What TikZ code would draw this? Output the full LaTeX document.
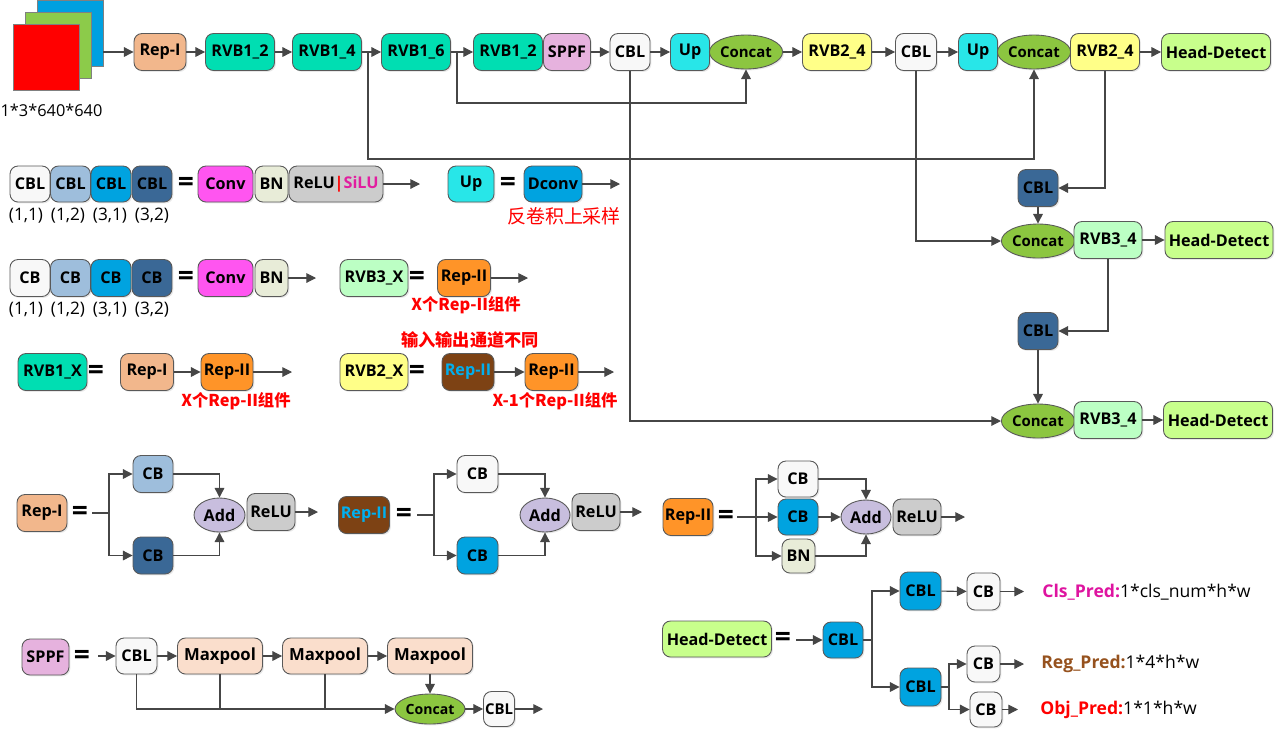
\documentclass[tikz,border=0pt]{standalone}
\usepackage{fontspec}
\setmainfont{Open Sans}
\newfontfamily\cjk{Noto Sans CJK SC}
\usetikzlibrary{shapes.geometric,arrows.meta,shadows}
\definecolor{cLine}{RGB}{70,70,70}
\definecolor{cImgB}{RGB}{0,160,224}
\definecolor{cImgG}{RGB}{140,203,74}
\definecolor{cRepI}{RGB}{242,183,140}
\definecolor{cRvbI}{RGB}{0,222,178}
\definecolor{cSppf}{RGB}{230,178,222}
\definecolor{cWhite}{RGB}{248,248,248}
\definecolor{cUp}{RGB}{40,230,232}
\definecolor{cCat}{RGB}{140,198,64}
\definecolor{cRvbII}{RGB}{255,255,136}
\definecolor{cHead}{RGB}{200,255,140}
\definecolor{cRvbIII}{RGB}{188,255,196}
\definecolor{cDark}{RGB}{58,104,150}
\definecolor{cLight}{RGB}{158,190,220}
\definecolor{cMid}{RGB}{0,163,224}
\definecolor{cConv}{RGB}{255,85,240}
\definecolor{cBn}{RGB}{232,236,216}
\definecolor{cRelu}{RGB}{204,204,204}
\definecolor{cSilu}{RGB}{225,30,160}
\definecolor{cRepII}{RGB}{255,148,40}
\definecolor{cBrown}{RGB}{125,66,20}
\definecolor{cCyanT}{RGB}{0,176,240}
\definecolor{cAdd}{RGB}{200,190,222}
\definecolor{cPool}{RGB}{250,222,204}
\definecolor{cReg}{RGB}{150,82,30}
\definecolor{cCls}{RGB}{222,20,160}
\tikzset{
  blk/.style={draw=black!65, line width=0.5pt, rounded corners=0.16cm, minimum height=0.74cm, minimum width=#1, inner sep=0pt, font=\bfseries\fontsize{9.2}{10}\selectfont, drop shadow={opacity=0.18, shadow xshift=0.8pt, shadow yshift=-0.8pt}},
  blk/.default=0.8cm,
  oval/.style={ellipse, draw=black!65, line width=0.5pt, fill=cCat, minimum width=1.4cm, minimum height=0.68cm, inner sep=0pt, font=\bfseries\fontsize{8.5}{10}\selectfont, drop shadow={opacity=0.18, shadow xshift=0.8pt, shadow yshift=-0.8pt}},
  sq/.style={draw=black!50, line width=0.4pt, minimum size=1.32cm, inner sep=0pt},
  arr/.style={draw=cLine, line width=0.6pt, -{Triangle[length=5.5pt,width=5.5pt]}},
  ln/.style={draw=cLine, line width=0.6pt},
  eq/.style={font=\bfseries\fontsize{16}{16}\selectfont, inner sep=0pt},
  lbl/.style={font=\fontsize{9.8}{11}\selectfont, inner sep=0pt},
  note/.style={text=red, font=\cjk\bfseries\fontsize{9.3}{11}\selectfont, inner sep=0pt},
  pred/.style={anchor=west, font=\fontsize{10}{12}\selectfont, inner sep=0pt}
}
\begin{document}
\begin{tikzpicture}[x=0.02cm,y=-0.02cm]
\useasboundingbox (0,0) rectangle (1277,731);

\node[sq, fill=cImgB] (imgB) at (70,33) {};
\node[sq, fill=cImgG] (imgG) at (58.5,45) {};
\node[sq, fill=red] (imgR) at (46.5,57) {};
\node[lbl, font=\fontsize{9.3}{11}\selectfont] (imgT) at (51.5,110) {1*3*640*640};

\node[blk=1.04cm, fill=cRepI] (repI) at (160,52) {Rep-I};
\node[blk=1.38cm, fill=cRvbI] (rvbA) at (240,52) {RVB1\_2};
\node[blk=1.38cm, fill=cRvbI] (rvbB) at (327,52) {RVB1\_4};
\node[blk=1.38cm, fill=cRvbI] (rvbC) at (416,52) {RVB1\_6};
\node[blk=1.38cm, fill=cRvbI] (rvbD) at (508,52) {RVB1\_2};
\node[blk=0.94cm, fill=cSppf] (sppf) at (567,52) {SPPF};
\node[blk=0.8cm, fill=cWhite] (cblA) at (630,52) {CBL};
\node[blk=0.78cm, fill=cUp] (upA) at (690,52) {Up};
\node[oval] (catA) at (746,52) {Concat};
\node[blk=1.38cm, fill=cRvbII] (rvbE) at (837,52) {RVB2\_4};
\node[blk=0.82cm, fill=cWhite] (cblB) at (916,52) {CBL};
\node[blk=0.78cm, fill=cUp] (upB) at (978,52) {Up};
\node[oval] (catB) at (1034,52) {Concat};
\node[blk=1.38cm, fill=cRvbII] (rvbF) at (1105,52) {RVB2\_4};
\node[blk=2.18cm, fill=cHead] (headA) at (1216,52) {Head-Detect};

\node[blk=0.8cm, fill=cDark] (cblC) at (1038,188) {CBL};
\node[oval] (catC) at (1038,241) {Concat};
\node[blk=1.36cm, fill=cRvbIII] (rvbG) at (1108,240) {RVB3\_4};
\node[blk=2.16cm, fill=cHead] (headB) at (1219,240) {Head-Detect};
\node[blk=0.8cm, fill=cDark] (cblD) at (1038,331) {CBL};
\node[oval] (catD) at (1038,421) {Concat};
\node[blk=1.36cm, fill=cRvbIII] (rvbH) at (1108,420) {RVB3\_4};
\node[blk=2.18cm, fill=cHead] (headC) at (1218,420) {Head-Detect};

\coordinate (brA) at (368,52);
\coordinate (brB) at (457,52);
\draw[arr] (imgB.east |- repI.west) -- (repI.west);
\draw[arr] (repI) -- (rvbA);
\draw[arr] (rvbA) -- (rvbB);
\draw[arr] (rvbB) -- (rvbC);
\draw[arr] (rvbC) -- (rvbD);
\draw[arr] (sppf) -- (cblA);
\draw[arr] (cblA) -- (upA);
\draw[arr] (catA) -- (rvbE);
\draw[arr] (rvbE) -- (cblB);
\draw[arr] (cblB) -- (upB);
\draw[arr] (rvbF) -- (headA);
\draw[arr] (brA) -- ++(0,107) -| (catB.south);
\draw[arr] (brB) -- ++(0,51) -| (catA.south);
\draw[arr] (cblA.south) |- (catD.west);
\draw[arr] (cblB.south) |- (catC.west);
\draw[arr] (rvbF.south) |- (cblC.east);
\draw[arr] (cblC) -- (catC);
\draw[arr] (rvbG) -- (headB);
\draw[arr] (rvbG.south) |- (cblD.east);
\draw[arr] (cblD) -- (catD);
\draw[arr] (rvbH) -- (headC);

\node[blk=0.8cm, fill=cWhite, minimum height=0.72cm] (cblW) at (30,184) {CBL};
\node[blk=0.8cm, fill=cLight, minimum height=0.72cm] (cblL) at (70.5,184) {CBL};
\node[blk=0.8cm, fill=cMid, minimum height=0.72cm] (cblM) at (111,184) {CBL};
\node[blk=0.8cm, fill=cDark, minimum height=0.72cm] (cblK) at (152,184) {CBL};
\node[lbl] (kA) at (26,216) {(1,1)};
\node[lbl] (kB) at (68,216) {(1,2)};
\node[lbl] (kC) at (110,216) {(3,1)};
\node[lbl] (kD) at (152,216) {(3,2)};
\node[eq] (eqA) at (186,184) {=};
\node[blk=1.1cm, fill=cConv, minimum height=0.72cm] (convA) at (225.5,184) {Conv};
\node[blk=0.66cm, fill=cBn, minimum height=0.72cm] (bnA) at (271.5,184) {BN};
\node[blk=1.88cm, fill=cRelu, minimum height=0.72cm] (reluA) at (336,184) {ReLU{\color{red}|}{\color{cSilu}SiLU}};
\coordinate (endA) at (420,184);
\draw[arr] (reluA) -- (endA);
\node[blk=0.92cm, fill=cUp, minimum height=0.72cm] (upC) at (471,184) {Up};
\node[eq] (eqB) at (508,184) {=};
\node[blk=1.16cm, fill=cMid, minimum height=0.72cm] (dconv) at (553,184) {Dconv};
\coordinate (endB) at (620,184);
\draw[arr] (dconv) -- (endB);
\node[inner sep=0pt, text=red, font=\cjk\fontsize{10.8}{12}\selectfont] (upT) at (564,216) {反卷积上采样};

\node[blk=0.8cm, fill=cWhite, minimum height=0.74cm] (cbW) at (30,278) {CB};
\node[blk=0.8cm, fill=cLight, minimum height=0.74cm] (cbL) at (70.5,278) {CB};
\node[blk=0.8cm, fill=cMid, minimum height=0.74cm] (cbM) at (111,278) {CB};
\node[blk=0.8cm, fill=cDark, minimum height=0.74cm] (cbK) at (152,278) {CB};
\node[lbl] (kE) at (26,310) {(1,1)};
\node[lbl] (kF) at (68,310) {(1,2)};
\node[lbl] (kG) at (110,310) {(3,1)};
\node[lbl] (kH) at (152,310) {(3,2)};
\node[eq] (eqC) at (186,278) {=};
\node[blk=1.1cm, fill=cConv] (convB) at (225.5,278) {Conv};
\node[blk=0.66cm, fill=cBn] (bnB) at (271.5,278) {BN};
\coordinate (endC) at (316,278);
\draw[arr] (bnB) -- (endC);
\node[blk=1.36cm, fill=cRvbIII] (rvbX) at (374,278) {RVB3\_X};
\node[eq] (eqD) at (417,278) {=};
\node[blk=1.06cm, fill=cRepII] (repA) at (464,278) {Rep-II};
\coordinate (endD) at (528,278);
\draw[arr] (repA) -- (endD);
\node[note] (noteA) at (466,305) {X个Rep-II组件};

\node[blk=1.38cm, fill=cRvbI] (rvbY) at (52.5,372) {RVB1\_X};
\node[eq] (eqE) at (96,372) {=};
\node[blk=1.06cm, fill=cRepI] (repB) at (147,372) {Rep-I};
\node[blk=1.04cm, fill=cRepII] (repC) at (227,372) {Rep-II};
\coordinate (endE) at (292,372);
\draw[arr] (repB) -- (repC);
\draw[arr] (repC) -- (endE);
\node[note] (noteB) at (236,401) {X个Rep-II组件};
\node[blk=1.36cm, fill=cRvbII] (rvbZ) at (374,372) {RVB2\_X};
\node[eq] (eqF) at (417,372) {=};
\node[blk=1.04cm, fill=cBrown, text=cCyanT] (repD) at (468,372) {Rep-II};
\node[blk=1.06cm, fill=cRepII] (repE) at (551.5,372) {Rep-II};
\coordinate (endF) at (614,372);
\draw[arr] (repD) -- (repE);
\draw[arr] (repE) -- (endF);
\node[note, font=\cjk\bfseries\fontsize{9.8}{11}\selectfont] (noteC) at (470,340) {输入输出通道不同};
\node[note] (noteD) at (555,401) {X-1个Rep-II组件};

\node[blk=1.0cm, fill=cRepI] (repF) at (42,513) {Rep-I};
\node[eq] (eqG) at (80,513) {=};
\coordinate (inA) at (92,513);
\coordinate (brC) at (109,513);
\node[blk=0.8cm, fill=cLight] (cbA) at (153,474) {CB};
\node[blk=0.8cm, fill=cDark] (cbB) at (153,555.5) {CB};
\node[oval, fill=cAdd, minimum width=1.02cm, font=\bfseries\fontsize{9.2}{10}\selectfont] (addA) at (219.5,515) {Add};
\node[blk=0.96cm, fill=cRelu] (reluB) at (271,512) {ReLU};
\coordinate (endG) at (318,512);
\draw[ln] (inA) -- (brC);
\draw[arr] (brC) |- (cbA.west);
\draw[arr] (brC) |- (cbB.west);
\draw[arr] (cbA.east) -| (addA.north);
\draw[arr] (cbB.east) -| (addA.south);
\draw[arr] (reluB) -- (endG);

\node[blk=1.02cm, fill=cBrown, text=cCyanT] (repG) at (364,515) {Rep-II};
\node[eq] (eqH) at (404,515) {=};
\coordinate (inB) at (417,515);
\coordinate (brD) at (434,515);
\node[blk=0.82cm, fill=cWhite] (cbC) at (477.5,474) {CB};
\node[blk=0.82cm, fill=cMid] (cbD) at (477.5,555.5) {CB};
\node[oval, fill=cAdd, minimum width=1.0cm, font=\bfseries\fontsize{9.2}{10}\selectfont] (addB) at (545,515) {Add};
\node[blk=0.96cm, fill=cRelu] (reluC) at (596,512) {ReLU};
\coordinate (endH) at (642,512);
\draw[ln] (inB) -- (brD);
\draw[arr] (brD) |- (cbC.west);
\draw[arr] (brD) |- (cbD.west);
\draw[arr] (cbC.east) -| (addB.north);
\draw[arr] (cbD.east) -| (addB.south);
\draw[arr] (reluC) -- (endH);

\node[blk=1.0cm, fill=cRepII] (repH) at (688,517) {Rep-II};
\node[eq] (eqI) at (726,517) {=};
\coordinate (inC) at (737,517);
\coordinate (brE) at (756,517);
\node[blk=0.8cm, fill=cWhite, minimum height=0.72cm] (cbE) at (798,479) {CB};
\node[blk=0.8cm, fill=cMid, minimum height=0.72cm] (cbF) at (798,517) {CB};
\node[blk=0.66cm, fill=cBn, minimum height=0.68cm] (bnC) at (798.5,556) {BN};
\node[oval, fill=cAdd, minimum width=1.0cm, font=\bfseries\fontsize{9.2}{10}\selectfont] (addC) at (866,517) {Add};
\node[blk=0.96cm, fill=cRelu, minimum height=0.72cm] (reluD) at (917,517) {ReLU};
\coordinate (endI) at (965,517);
\draw[arr] (inC) -- (cbF.west);
\draw[arr] (brE) |- (cbE.west);
\draw[arr] (brE) |- (bnC.west);
\draw[arr] (cbF) -- (addC);
\draw[arr] (cbE.east) -| (addC.north);
\draw[arr] (bnC.east) -| (addC.south);
\draw[arr] (reluD) -- (endI);

\node[blk=0.94cm, fill=cSppf, minimum height=0.72cm] (sppfK) at (45.5,657) {SPPF};
\node[eq] (eqJ) at (82,657) {=};
\coordinate (inD) at (98,656);
\node[blk=0.82cm, fill=cWhite, minimum height=0.72cm] (cblS) at (136.5,656) {CBL};
\node[blk=1.7cm, fill=cPool, minimum height=0.72cm, font=\bfseries\fontsize{9.5}{10}\selectfont] (mpA) at (220,656) {Maxpool};
\node[blk=1.7cm, fill=cPool, minimum height=0.72cm, font=\bfseries\fontsize{9.5}{10}\selectfont] (mpB) at (325,656) {Maxpool};
\node[blk=1.7cm, fill=cPool, minimum height=0.72cm, font=\bfseries\fontsize{9.5}{10}\selectfont] (mpC) at (430,656) {Maxpool};
\node[oval, minimum height=0.6cm, font=\bfseries\fontsize{8}{9}\selectfont] (catS) at (430,709) {Concat};
\node[blk=0.62cm, fill=cWhite, minimum height=0.7cm, font=\bfseries\fontsize{8.5}{10}\selectfont] (cblT) at (499,709) {CBL};
\coordinate (endJ) at (543,709);
\draw[arr] (inD) -- (cblS.west);
\draw[arr] (cblS) -- (mpA);
\draw[arr] (mpA) -- (mpB);
\draw[arr] (mpB) -- (mpC);
\draw[arr] (mpC) -- (catS);
\draw[arr] (cblS.south) |- (catS.west);
\draw[ln] (mpA.south) -- (mpA.south |- catS.west);
\draw[ln] (mpB.south) -- (mpB.south |- catS.west);
\draw[arr] (catS) -- (cblT);
\draw[arr] (cblT) -- (endJ);

\node[blk=2.18cm, fill=cHead, minimum height=0.72cm] (headK) at (717,639) {Head-Detect};
\node[eq] (eqK) at (783,639) {=};
\coordinate (inE) at (796,640);
\node[blk=0.8cm, fill=cMid, minimum height=0.72cm] (cblH) at (843,640) {CBL};
\coordinate (brF) at (872,640);
\node[blk=0.82cm, fill=cMid, minimum height=0.76cm] (cblI) at (920.5,591) {CBL};
\node[blk=0.66cm, fill=cWhite] (cbG) at (983.5,591.5) {CB};
\node[blk=0.82cm, fill=cMid, minimum height=0.76cm] (cblJ) at (920.5,687) {CBL};
\coordinate (brG) at (949,687);
\node[blk=0.66cm, fill=cWhite, minimum height=0.72cm] (cbH) at (983.5,664) {CB};
\node[blk=0.64cm, fill=cWhite, minimum height=0.7cm] (cbI) at (986,709.5) {CB};
\coordinate (endK) at (1024,591.5);
\coordinate (endL) at (1024,664);
\coordinate (endM) at (1018,709.5);
\draw[arr] (inE) -- (cblH.west);
\draw[ln] (cblH.east) -- (brF);
\draw[arr] (brF) |- (cblI.west);
\draw[arr] (brF) |- (cblJ.west);
\draw[arr] (cblI) -- (cbG);
\draw[arr] (cbG) -- (endK);
\draw[ln] (cblJ.east) -- (brG);
\draw[arr] (brG) |- (cbH.west);
\draw[arr] (brG) |- (cbI.west);
\draw[arr] (cbH) -- (endL);
\draw[arr] (cbI) -- (endM);
\node[pred] (clsT) at (1042,592) {{\bfseries\color{cCls}Cls\_Pred:}1*cls\_num*h*w};
\node[pred] (regT) at (1041,664) {{\bfseries\color{cReg}Reg\_Pred:}1*4*h*w};
\node[pred] (objT) at (1040,710) {{\bfseries\color{red}Obj\_Pred:}1*1*h*w};
\end{tikzpicture}
\end{document}
